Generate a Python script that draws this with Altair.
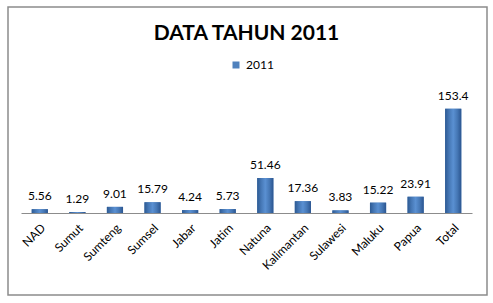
import altair as alt
import pandas as pd

title_text = "DATA TAHUN 2011"
categories = ["NAD", "Sumut", "Sumteng", "Sumsel", "Jabar", "Jatim", "Natuna",
              "Kalimantan", "Sulawesi", "Maluku", "Papua", "Total"]
values_2011 = [5.56, 1.29, 9.01, 15.79, 4.24, 5.73, 51.46, 17.36, 3.83, 15.22, 23.91, 153.4]
series_name = "2011"

df = pd.DataFrame({
    "kategori": categories,
    "nilai": values_2011,
    "label": [f"{v:g}" for v in values_2011],
    "seri": [series_name] * len(categories),
})

FONT = "Lato"
x_enc = alt.X("kategori:N", sort=categories,
              scale=alt.Scale(paddingInner=0.57, paddingOuter=0.285),
              axis=alt.Axis(title=None, labelAngle=-45, labelFontSize=12, labelFont=FONT,
                            labelColor="black", ticks=False, labelPadding=9,
                            domainColor="#8c8c8c", domainWidth=1))
y_enc = alt.Y("nilai:Q", scale=alt.Scale(domain=[0, 173.5], nice=False), axis=None)

base = alt.Chart(df)

legend_layer = base.mark_bar().encode(
    x=x_enc, y=y_enc,
    color=alt.Color("seri:N", scale=alt.Scale(range=["#4F81BD"]),
                    legend=alt.Legend(title=None, orient="none", legendX=209, legendY=-36,
                                      symbolType="square", symbolSize=49,
                                      labelFontSize=12, labelFont=FONT, labelColor="black",
                                      labelOffset=4, symbolStrokeWidth=0)),
)

grad = alt.Gradient(
    gradient="linear", x1=0, x2=1, y1=0, y2=0,
    stops=[alt.GradientStop(offset=0, color="#2D5A93"),
           alt.GradientStop(offset=0.25, color="#4678B6"),
           alt.GradientStop(offset=0.5, color="#5A90D2"),
           alt.GradientStop(offset=0.75, color="#4678B6"),
           alt.GradientStop(offset=1, color="#2B5590")],
)
bars = base.mark_bar(fill=grad).encode(x=x_enc, y=y_enc)

labels = base.mark_text(dy=-9, baseline="alphabetic", fontSize=12, font=FONT,
                        color="black").encode(x=x_enc, y=y_enc, text="label:N")

one = alt.Data(values=[{"t": title_text}])
frame = alt.Chart(one).mark_rect(
    fill="transparent", stroke="#8c8c8c", strokeWidth=1.5, clip=False
).encode(x=alt.value(-13), x2=alt.value(466), y=alt.value(-88), y2=alt.value(200))

title = alt.Chart(one).mark_text(
    fontSize=21, font=FONT, fontWeight="bold", color="black",
    align="center", baseline="alphabetic"
).encode(x=alt.value(225.5), y=alt.value(-55), text="t:N")

chart = alt.layer(frame, title, legend_layer, bars, labels).properties(
    width=451, height=118,
    background="white",
    autosize=alt.AutoSizeParams(type="none"),
    padding={"left": 21, "top": 95, "right": 21, "bottom": 90},
).configure_view(strokeWidth=0, stroke="transparent")

chart.save("out.html", embed_options={"renderer": "svg", "actions": False})
